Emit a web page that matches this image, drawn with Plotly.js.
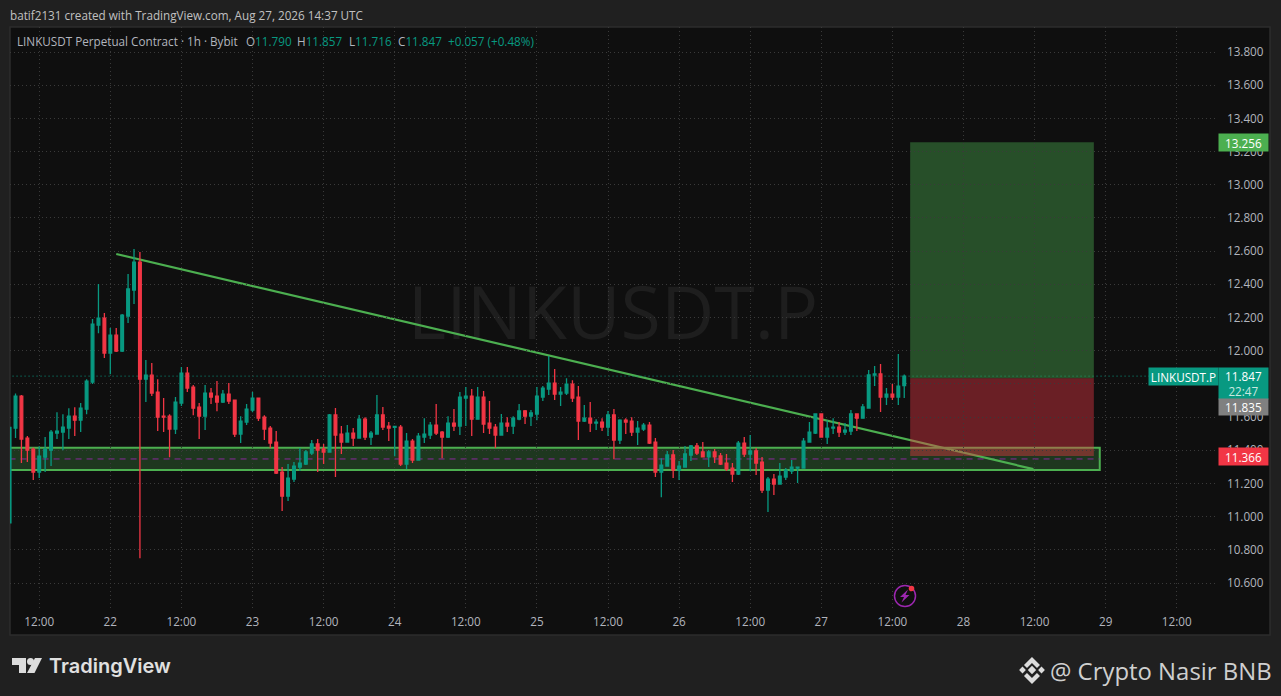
<!DOCTYPE html>
<html>
<head>
<meta charset="utf-8">
<script src="https://cdn.plot.ly/plotly-3.0.1.min.js"></script>
<style>html,body{margin:0;padding:0;background:#202020;overflow:hidden}#chart{width:1281px;height:696px}</style>
</head>
<body>
<div id="chart"></div>
<script>
// Hourly candles, first one is 21 Aug 07:00 UTC
const opens = [10.963,11.534,11.727,11.474,11.407,11.269,11.359,11.401,11.504,11.510,11.534,11.606,11.582,11.648,11.811,12.155,12.197,11.986,12.094,11.998,12.209,12.366,12.534,11.829,11.853,11.751,11.606,11.606,11.528,11.685,11.865,11.781,11.660,11.606,11.745,11.727,11.691,11.739,11.703,11.498,11.570,11.642,11.715,11.600,11.534,11.450,11.269,11.124,11.227,11.299,11.317,11.384,11.438,11.408,11.390,11.613,11.498,11.450,11.504,11.474,11.588,11.480,11.498,11.613,11.546,11.538,11.540,11.317,11.456,11.341,11.480,11.492,11.552,11.510,11.480,11.564,11.546,11.715,11.727,11.588,11.721,11.564,11.540,11.492,11.564,11.546,11.588,11.637,11.606,11.619,11.721,11.769,11.805,11.739,11.745,11.799,11.721,11.576,11.594,11.564,11.570,11.540,11.613,11.462,11.582,11.576,11.510,11.528,11.552,11.450,11.269,11.305,11.372,11.281,11.299,11.372,11.426,11.390,11.360,11.390,11.366,11.323,11.293,11.257,11.444,11.378,11.396,11.329,11.161,11.227,11.197,11.239,11.275,11.293,11.293,11.450,11.504,11.619,11.480,11.534,11.540,11.510,11.516,11.619,11.594,11.655,11.854,11.860,11.721,11.739,11.721,11.790];
const highs = [11.538,11.743,11.733,11.486,11.417,11.425,11.480,11.522,11.630,11.618,11.654,11.660,11.685,11.829,12.191,12.402,12.227,12.137,12.137,12.221,12.462,12.613,12.595,11.944,11.926,11.829,11.715,11.618,11.721,11.902,11.902,11.793,11.685,11.793,11.775,11.817,11.763,11.805,11.703,11.606,11.679,11.751,11.715,11.612,11.546,11.516,11.299,11.317,11.329,11.414,11.402,11.462,11.468,11.438,11.619,11.655,11.546,11.552,11.534,11.613,11.600,11.516,11.733,11.661,11.570,11.546,11.552,11.504,11.468,11.504,11.594,11.570,11.679,11.516,11.606,11.649,11.751,11.781,11.769,11.781,11.757,11.697,11.558,11.619,11.600,11.606,11.679,11.643,11.643,11.781,11.787,11.968,11.890,11.781,11.835,11.823,11.787,11.673,11.691,11.588,11.594,11.637,11.649,11.588,11.594,11.600,11.576,11.564,11.570,11.474,11.353,11.396,11.402,11.335,11.426,11.432,11.444,11.450,11.402,11.408,11.384,11.378,11.323,11.456,11.480,11.492,11.414,11.360,11.239,11.257,11.323,11.293,11.341,11.299,11.474,11.570,11.619,11.619,11.582,11.594,11.570,11.564,11.643,11.619,11.679,11.884,11.908,11.920,11.775,11.799,11.980,11.857];
const lows = [10.963,11.474,11.323,11.329,11.221,11.233,11.269,11.305,11.468,11.401,11.468,11.486,11.510,11.618,11.799,12.106,11.956,11.859,11.992,11.992,12.167,12.281,10.750,11.691,11.727,11.516,11.510,11.359,11.498,11.667,11.751,11.612,11.468,11.522,11.679,11.636,11.685,11.679,11.480,11.444,11.552,11.630,11.576,11.462,11.413,11.257,11.034,11.094,11.209,11.275,11.311,11.372,11.269,11.317,11.390,11.239,11.378,11.450,11.426,11.474,11.462,11.432,11.498,11.522,11.456,11.365,11.305,11.287,11.323,11.341,11.444,11.468,11.492,11.353,11.474,11.516,11.492,11.546,11.486,11.588,11.504,11.498,11.414,11.492,11.510,11.498,11.582,11.558,11.546,11.582,11.697,11.733,11.703,11.667,11.733,11.691,11.462,11.570,11.510,11.522,11.516,11.486,11.347,11.438,11.498,11.486,11.432,11.516,11.438,11.239,11.118,11.305,11.233,11.221,11.299,11.335,11.372,11.360,11.299,11.323,11.311,11.275,11.209,11.251,11.360,11.275,11.251,11.143,11.028,11.131,11.197,11.221,11.257,11.203,11.293,11.450,11.498,11.480,11.438,11.498,11.480,11.492,11.492,11.516,11.594,11.655,11.787,11.631,11.673,11.703,11.673,11.716];
const closes = [11.538,11.727,11.468,11.401,11.269,11.365,11.407,11.510,11.516,11.540,11.606,11.582,11.654,11.817,12.161,12.197,11.986,12.094,11.998,12.215,12.372,12.534,11.829,11.853,11.745,11.600,11.600,11.528,11.691,11.865,11.775,11.654,11.606,11.745,11.721,11.691,11.739,11.697,11.498,11.576,11.648,11.715,11.594,11.528,11.444,11.263,11.124,11.233,11.305,11.323,11.390,11.438,11.402,11.390,11.613,11.492,11.450,11.504,11.474,11.588,11.480,11.504,11.613,11.540,11.534,11.544,11.317,11.456,11.341,11.486,11.498,11.552,11.504,11.480,11.564,11.546,11.721,11.727,11.588,11.721,11.558,11.534,11.492,11.564,11.546,11.594,11.637,11.606,11.625,11.727,11.775,11.805,11.739,11.751,11.799,11.715,11.576,11.594,11.564,11.570,11.540,11.613,11.462,11.582,11.570,11.510,11.534,11.552,11.444,11.269,11.311,11.372,11.281,11.305,11.378,11.426,11.384,11.360,11.390,11.360,11.317,11.287,11.257,11.444,11.378,11.396,11.323,11.161,11.227,11.197,11.245,11.281,11.299,11.299,11.456,11.510,11.619,11.480,11.534,11.540,11.510,11.522,11.619,11.594,11.661,11.854,11.860,11.721,11.739,11.721,11.787,11.847];

const timeTickHours = [-12,0,12,24,36,48,60,72,84,96,108,120,132,144,156,168,180];
const timeTickLabels = ['12:00','22','12:00','23','12:00','24','12:00','25','12:00','26','12:00','27','12:00','28','12:00','29','12:00'];
const priceTicks = [10.6,10.8,11.0,11.2,11.4,11.6,11.8,12.0,12.2,12.4,12.6,12.8,13.0,13.2,13.4,13.6,13.8];

const lastPrice = 11.847, entryPrice = 11.835, stopPrice = 11.366, targetPrice = 13.256;
const zoneTop = 11.416, zoneBottom = 11.281, zoneMid = 11.348;
const trendStart = {hour: 1, price: 12.583}, trendEnd = {hour: 155.8, price: 11.287};

const GREEN = '#089981', RED = '#f23645', TEXT = '#b2b5be', LINE = '#4caf50';
const FONT = '"Open Sans", sans-serif';

// hours from 22 Aug 00:00 UTC → date string on the time axis
const t = h => new Date(Date.UTC(2026, 7, 22) + h * 3600e3).toISOString().slice(0, 19).replace('T', ' ');
// page pixels → paper fractions, for chrome outside the data
const PL = 10, PR = 1215, PT = 27, PB = 608;
const xp = px => (px - PL) / (PR - PL);
const yp = py => (PB - py) / (PB - PT);
const pathOf = (pts) => 'M' + pts.map(p => xp(p[0]).toFixed(5) + ',' + yp(p[1]).toFixed(5)).join(' L') + ' Z';

const times = opens.map((_, i) => t(i - 17));

const candle = {
  type: 'candlestick', x: times, open: opens, high: highs, low: lows, close: closes,
  whiskerwidth: 0, hoverinfo: 'skip', showlegend: false,
  increasing: {line: {color: GREEN, width: 1.3}, fillcolor: GREEN},
  decreasing: {line: {color: RED, width: 1.3}, fillcolor: RED}
};

const paperRect = (x0, y0, x1, y1, extra) => Object.assign({type: 'rect', xref: 'paper', yref: 'paper',
  x0: xp(x0), x1: xp(x1), y0: yp(y0), y1: yp(y1), layer: 'below', line: {width: 0}}, extra);
const dataRect = (h0, p0, h1, p1, extra) => Object.assign({type: 'rect', xref: 'x', yref: 'y',
  x0: t(h0), x1: t(h1), y0: p0, y1: p1, layer: 'below', line: {width: 0}}, extra);
const iconPath = (pts, fill) => ({type: 'path', xref: 'paper', yref: 'paper', path: pathOf(pts), fillcolor: fill, line: {width: 0}, layer: 'above'});
const iconCircle = (cx, cy, r, fill, stroke, w) => ({type: 'circle', xref: 'paper', yref: 'paper',
  x0: xp(cx - r), x1: xp(cx + r), y0: yp(cy + r), y1: yp(cy - r), fillcolor: fill, line: {color: stroke, width: w}, layer: 'above'});
const diamond = (cx, cy, r, fill) => iconPath([[cx, cy - r], [cx + r, cy], [cx, cy + r], [cx - r, cy]], fill);

const ICON = '#dcdcdc';
const shapes = [
  // panel
  paperRect(10, 27, 1270, 635, {fillcolor: '#0f0f0f', line: {color: '#2c2c2c', width: 1.5}}),
  // watermark
  paperRect(313, 270, 913, 362, {fillcolor: 'rgba(0,0,0,0)',
    label: {text: 'LINKUSDT.P', textposition: 'middle center', font: {family: FONT, size: 73.5, color: '#1e1e1e'}}}),
  // demand zone
  dataRect(-30, zoneBottom, 167, zoneTop, {fillcolor: 'rgba(76,175,80,0.25)', line: {color: LINE, width: 2}}),
  {type: 'line', xref: 'x', yref: 'y', x0: t(-30), x1: t(167), y0: zoneMid, y1: zoneMid, layer: 'below',
    line: {color: 'rgba(156,39,176,0.85)', width: 1, dash: '6px,5px'}},
  // trend line
  {type: 'line', xref: 'x', yref: 'y', x0: t(trendStart.hour), x1: t(trendEnd.hour), y0: trendStart.price, y1: trendEnd.price,
    layer: 'below', line: {color: LINE, width: 2.2}},
  // last price line
  {type: 'line', xref: 'x', yref: 'y', x0: t(-30), x1: t(200), y0: lastPrice, y1: lastPrice, layer: 'below',
    line: {color: GREEN, width: 1, dash: '1px,3px'}},
  // long position box
  dataRect(135, entryPrice, 166, targetPrice, {fillcolor: 'rgba(76,175,80,0.4)'}),
  dataRect(135, stopPrice, 166, entryPrice, {fillcolor: 'rgba(242,54,69,0.4)'}),
  // TradingView mark
  iconPath([[12, 658], [26, 658], [26, 673], [19, 673], [19, 665], [12, 665]], ICON),
  iconCircle(30.5, 661.5, 3.5, ICON, ICON, 0),
  iconPath([[35, 658], [42, 658], [34.5, 673], [27, 673]], ICON),
  // Binance mark
  diamond(1032, 670, 4.2, ICON), diamond(1022.5, 670, 3.4, ICON), diamond(1041.5, 670, 3.4, ICON),
  iconPath([[1032, 657], [1040, 665], [1037, 668], [1032, 663], [1027, 668], [1024, 665]], ICON),
  iconPath([[1032, 684], [1040, 676], [1037, 673], [1032, 678], [1027, 673], [1024, 676]], ICON),
  // alert icon
  iconCircle(905, 596, 10.5, 'rgba(0,0,0,0)', '#9c27b0', 1.5),
  iconPath([[908, 589.5], [900, 597], [904, 597], [901.5, 602.5], [909.5, 595], [905.5, 595]], '#9c27b0'),
  iconCircle(911.5, 588.5, 2.8, RED, RED, 0)
];

const note = (px, py, text, color, size, anchor, family, weight) => ({xref: 'paper', yref: 'paper', x: xp(px), y: yp(py), text,
  showarrow: false, xanchor: anchor || 'left', yanchor: 'middle', font: {family: family || FONT, size: size || 12, color: color || TEXT, weight: weight || 'normal'}, borderpad: 0, borderwidth: 0});
const tag = (px, w, price, text, bg, h) => ({xref: 'paper', yref: 'y', x: xp(px), y: price, text, showarrow: false,
  xanchor: 'left', yanchor: 'middle', width: w, height: h || 16, bgcolor: bg, align: 'center', valign: 'middle', borderpad: 0,
  font: {family: FONT, size: 11.7, color: '#ffffff'}});

const annotations = [
  note(10, 15, 'batif2131 created with TradingView.com, Aug 27, 2026 14:37 UTC', '#c0c0c0', 11.7),
  note(17, 41, 'LINKUSDT Perpetual Contract · 1h · Bybit', TEXT, 11.7),
  note(246, 41, `O<span style="color:${GREEN}">11.790</span>`, TEXT, 11.7),
  note(297, 41, `H<span style="color:${GREEN}">11.857</span>`, TEXT, 11.7),
  note(349, 41, `L<span style="color:${GREEN}">11.716</span>`, TEXT, 11.7),
  note(398, 41, `C<span style="color:${GREEN}">11.847</span>`, TEXT, 11.7),
  note(448, 41, '+0.057 (+0.48%)', GREEN, 11.7),
  tag(1218, 49, 13.255, '13.256', '#4caf50', 17),
  tag(1148, 69, 11.8465, 'LINKUSDT.P', GREEN, 17),
  tag(1218, 49, 11.802, '11.847<br><span style="color:#c9e8e0">22:47</span>', GREEN, 31),
  tag(1218, 49, 11.661, '11.835', '#808080', 16),
  tag(1218, 49, 11.362, '11.366', RED, 17),
  note(49, 666, 'TradingView', '#e0e0e0', 20, 'left', 'Inter, sans-serif', 600),
  note(1050, 670, '@ Crypto Nasir BNB', '#cfcfcf', 23.9)
];

const layout = {
  width: 1281, height: 696,
  paper_bgcolor: '#202020', plot_bgcolor: '#0f0f0f',
  margin: {l: PL, r: 1281 - PR, t: PT, b: 696 - PB, pad: 0},
  showlegend: false, hovermode: false, dragmode: false, boxgap: 0.35,
  font: {family: FONT, size: 12, color: TEXT},
  xaxis: {
    type: 'date', range: [t(-16.93), t(186.45)], tickmode: 'array',
    tickvals: timeTickHours.map(t), ticktext: timeTickLabels,
    showgrid: true, gridcolor: '#3a3a3a', griddash: '1px,3px', gridwidth: 1, zeroline: false, showline: false,
    ticks: '', ticklabelstandoff: 5, tickfont: {family: FONT, size: 11.7, color: TEXT},
    rangeslider: {visible: false}, fixedrange: true
  },
  yaxis: {
    type: 'linear', side: 'right', range: [10.4500, 13.9507], tickmode: 'array',
    tickvals: priceTicks, ticktext: priceTicks.map(v => v.toFixed(3)),
    showgrid: true, gridcolor: '#3a3a3a', griddash: '1px,3px', gridwidth: 1, zeroline: false, showline: false,
    ticks: '', ticklabelstandoff: 11, tickfont: {family: FONT, size: 11.7, color: TEXT}, fixedrange: true
  },
  shapes, annotations
};

Plotly.newPlot('chart', [candle], layout, {displayModeBar: false, staticPlot: true});
</script>
</body>
</html>
